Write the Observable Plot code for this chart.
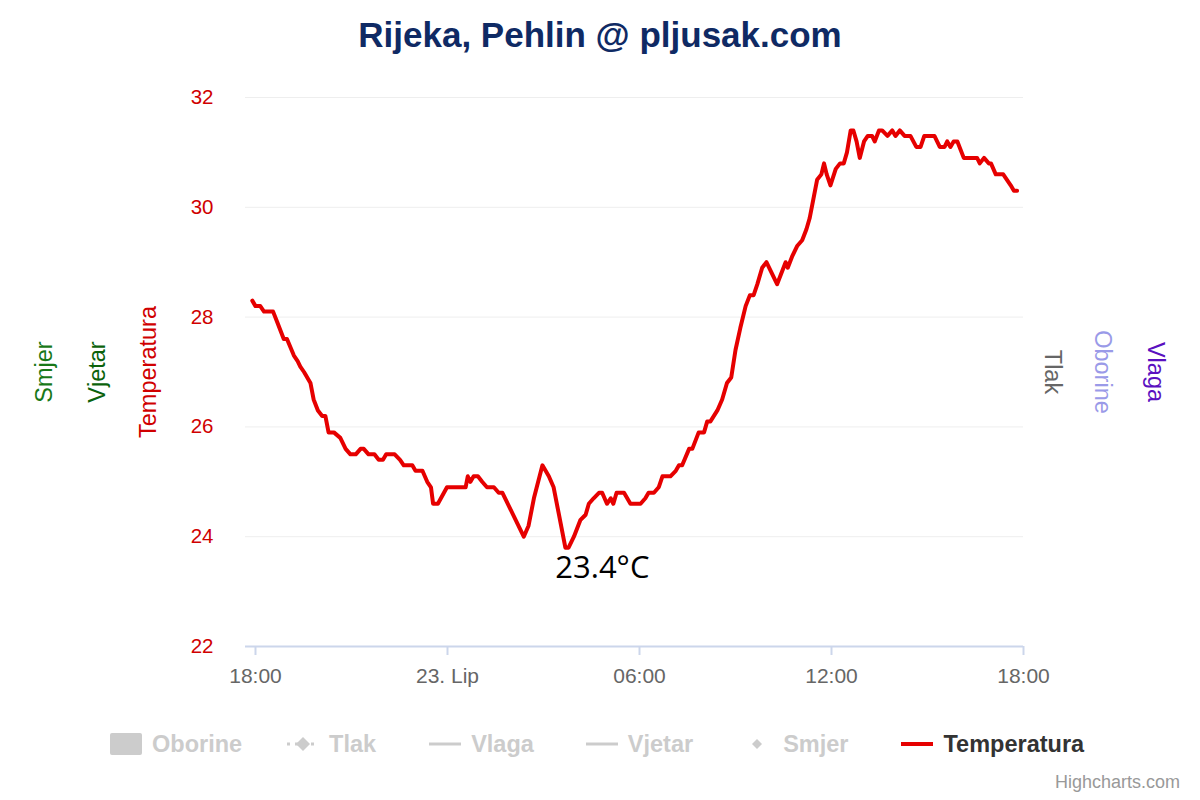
<!DOCTYPE html>
<html><head><meta charset="utf-8">
<script src="https://cdn.jsdelivr.net/npm/d3@7"></script>
<script src="https://cdn.jsdelivr.net/npm/@observablehq/plot@0.6"></script>
<style>
body{margin:0;background:#fff;font-family:"Liberation Sans",Arial,sans-serif;}
#wrap{position:relative;width:1200px;height:800px;overflow:hidden;background:#fff;}
#title{position:absolute;top:14px;left:0;width:1200px;text-align:center;font-weight:bold;font-size:35px;color:#0f2a64;line-height:42px;}
#chart{position:absolute;left:0;top:70px;}
.atitle{position:absolute;white-space:nowrap;font-size:23.5px;line-height:26px;}
#legend{position:absolute;left:110px;top:730px;display:flex;align-items:center;font-weight:bold;font-size:23.5px;line-height:28px;}
.item{display:flex;align-items:center;color:#cccccc;}
.item svg{margin-right:10px;}
#credit{position:absolute;right:20px;top:772px;font-size:18px;color:#999;}
</style>
</head><body>
<div id="wrap">
  <div id="title"></div>
  <div id="chart"></div>
  <div id="legend"></div>
  <div id="credit">Highcharts.com</div>
</div>
<script>
const titleText = "Rijeka, Pehlin @ pljusak.com";
const times = ["17:54","18:00","18:09","18:16","18:33","18:41","18:53","18:59","19:12","19:19","19:24","19:31","19:43","19:49","19:57","20:05","20:11","20:17","20:27","20:39","20:49","20:58","21:08","21:17","21:23","21:32","21:43","21:51","21:59","22:05","22:21","22:31","22:38","22:54","23:00","23:13","23:22","23:29","23:33","23:42","23:59","00:34","00:38","00:43","00:49","00:57","01:05","01:14","01:27","01:36","01:43","02:23","02:32","02:42","02:58","03:04","03:10","03:19","03:29","03:41","03:47","03:57","04:09","04:19","04:25","04:34","04:44","04:50","04:59","05:06","05:11","05:17","05:31","05:43","06:02","06:11","06:17","06:27","06:36","06:43","06:58","07:08","07:14","07:20","07:33","07:39","07:51","08:01","08:07","08:13","08:26","08:35","08:44","08:52","09:00","09:09","09:19","09:27","09:34","09:41","09:50","09:58","10:18","10:34","10:38","10:46","10:56","11:05","11:13","11:19","11:27","11:33","11:41","11:46","11:51","11:58","12:08","12:16","12:23","12:29","12:36","12:41","12:47","12:53","13:01","13:08","13:16","13:21","13:29","13:35","13:45","13:54","14:00","14:08","14:17","14:28","14:39","14:47","14:54","15:13","15:23","15:32","15:37","15:43","15:49","15:56","16:08","16:33","16:38","16:46","16:55","16:59","17:08","17:22","17:29","17:36","17:42","17:48"];
const temps = [28.3,28.2,28.2,28.1,28.1,27.9,27.6,27.6,27.3,27.2,27.1,27.0,26.8,26.5,26.3,26.2,26.2,25.9,25.9,25.8,25.6,25.5,25.5,25.6,25.6,25.5,25.5,25.4,25.4,25.5,25.5,25.4,25.3,25.3,25.2,25.2,25.0,24.9,24.6,24.6,24.9,24.9,25.1,25.0,25.1,25.1,25.0,24.9,24.9,24.8,24.8,24.0,24.2,24.7,25.3,25.2,25.1,24.9,24.4,23.8,23.8,24.0,24.3,24.4,24.6,24.7,24.8,24.8,24.6,24.7,24.6,24.8,24.8,24.6,24.6,24.7,24.8,24.8,24.9,25.1,25.1,25.2,25.3,25.3,25.6,25.6,25.9,25.9,26.1,26.1,26.3,26.5,26.8,26.9,27.4,27.8,28.2,28.4,28.4,28.6,28.9,29.0,28.6,29.0,28.9,29.1,29.3,29.4,29.6,29.8,30.2,30.5,30.6,30.8,30.6,30.4,30.7,30.8,30.8,31.0,31.4,31.4,31.2,30.9,31.2,31.3,31.3,31.2,31.4,31.4,31.3,31.4,31.3,31.4,31.3,31.3,31.1,31.1,31.3,31.3,31.1,31.1,31.2,31.1,31.2,31.2,30.9,30.9,30.8,30.9,30.8,30.8,30.6,30.6,30.5,30.4,30.3,30.3];
const yTicks = [22,24,26,28,30,32];
const xTickTimes = ["2019-06-22T18:00","2019-06-23T00:00","2019-06-23T06:00","2019-06-23T12:00","2019-06-23T18:00"];
const xTickLabels = ["18:00","23. Lip","06:00","12:00","18:00"];
const minLabel = "23.4°C";
const leftTitles = [
  {name:"Smjer", color:"#187818", cx:44},
  {name:"Vjetar", color:"#0b620b", cx:97},
  {name:"Temperatura", color:"#d00000", cx:148}
];
const rightTitles = [
  {name:"Tlak", color:"#666666", cx:1053},
  {name:"Oborine", color:"#9a9ae8", cx:1103},
  {name:"Vlaga", color:"#5a10c0", cx:1156}
];
const legendNames = ["Oborine","Tlak","Vlaga","Vjetar","Smjer","Temperatura"];
const legendKinds = ["box","dotdiamond","line","line","diamond","line"];
const legendActive = [false,false,false,false,false,true];
const legendGaps = [45,53,52,48,53,0];

document.getElementById("title").textContent = titleText;

// build data (day rolls over when clock time decreases)
let day = 22, prev = -1;
const data = times.map((t, i) => {
  const [h, m] = t.split(":").map(Number);
  const mins = h * 60 + m;
  if (mins < prev) day++;
  prev = mins;
  return {t: new Date(2019, 5, day, h, m), v: temps[i]};
});
const tickDates = xTickTimes.map(s => new Date(s));
const labelFor = d => xTickLabels[tickDates.findIndex(e => +e === +d)];
const minPt = data.reduce((a, b) => (b.v < a.v ? b : a));

const chart = Plot.plot({
  width: 1200, height: 630,
  marginLeft: 245, marginRight: 177, marginTop: 27, marginBottom: 54,
  x: {type: "time", domain: [new Date(2019, 5, 22, 17, 41, 15), new Date(2019, 5, 23, 18, 0)]},
  y: {domain: [22, 32]},
  style: {fontFamily: "'Liberation Sans', Arial, sans-serif", background: "white", overflow: "visible"},
  marks: [
    Plot.gridY(yTicks, {stroke: "#eeeeee", strokeOpacity: 1, strokeWidth: 1}),
    Plot.ruleY([22], {stroke: "#ccd6eb", strokeWidth: 2}),
    Plot.axisY(yTicks, {tickSize: 0, tickPadding: 32, fontSize: 20.5, fill: "#d00000", label: null, tickFormat: d => String(d)}),
    Plot.axisX(tickDates, {tickSize: 9, tickPadding: 13, fontSize: 21, fill: "#666666", stroke: "#ccd6eb", strokeWidth: 2, strokeOpacity: 1, tickFormat: labelFor, label: null}),
    Plot.line(data, {x: "t", y: "v", stroke: "#e60000", strokeWidth: 4, strokeLinejoin: "round", strokeLinecap: "round"}),
    Plot.text([minPt], {x: "t", y: "v", text: () => minLabel, dx: 37, dy: 20, fontSize: 31, fontFamily: "'Open Sans', sans-serif", fill: "#000", lineAnchor: "middle"})
  ]
});
document.getElementById("chart").appendChild(chart);

const wrap = document.getElementById("wrap");
const cy = 372;
for (const [list, rot] of [[leftTitles, -90], [rightTitles, 90]]) {
  for (const t of list) {
    const d = document.createElement("div");
    d.className = "atitle"; d.textContent = t.name; d.style.color = t.color;
    d.style.left = t.cx + "px"; d.style.top = cy + "px";
    d.style.transform = `translate(-50%,-50%) rotate(${rot}deg)`;
    wrap.appendChild(d);
  }
}

const legend = document.getElementById("legend");
legendNames.forEach((name, i) => {
  const kind = legendKinds[i], active = legendActive[i];
  const el = document.createElement("div");
  el.className = "item";
  el.style.marginRight = legendGaps[i] + "px";
  const c = active ? "#e60000" : "#cccccc";
  let sym = "";
  if (kind === "box") sym = `<rect x="0" y="3" width="32" height="22" rx="2" fill="${c}"/>`;
  else if (kind === "line") sym = `<line x1="0" x2="32" y1="14" y2="14" stroke="${c}" stroke-width="${active ? 4 : 3}"/>`;
  else if (kind === "dotdiamond") sym = `<line x1="0" x2="32" y1="14" y2="14" stroke="${c}" stroke-width="3" stroke-dasharray="3,5"/><path d="M16 7 L23 14 L16 21 L9 14 Z" fill="${c}"/>`;
  else if (kind === "diamond") sym = `<path d="M16 9 L21 14 L16 19 L11 14 Z" fill="${c}"/>`;
  el.innerHTML = `<svg width="32" height="28">${sym}</svg><span>${name}</span>`;
  if (active) el.style.color = "#333333";
  legend.appendChild(el);
});
</script>
</body></html>
